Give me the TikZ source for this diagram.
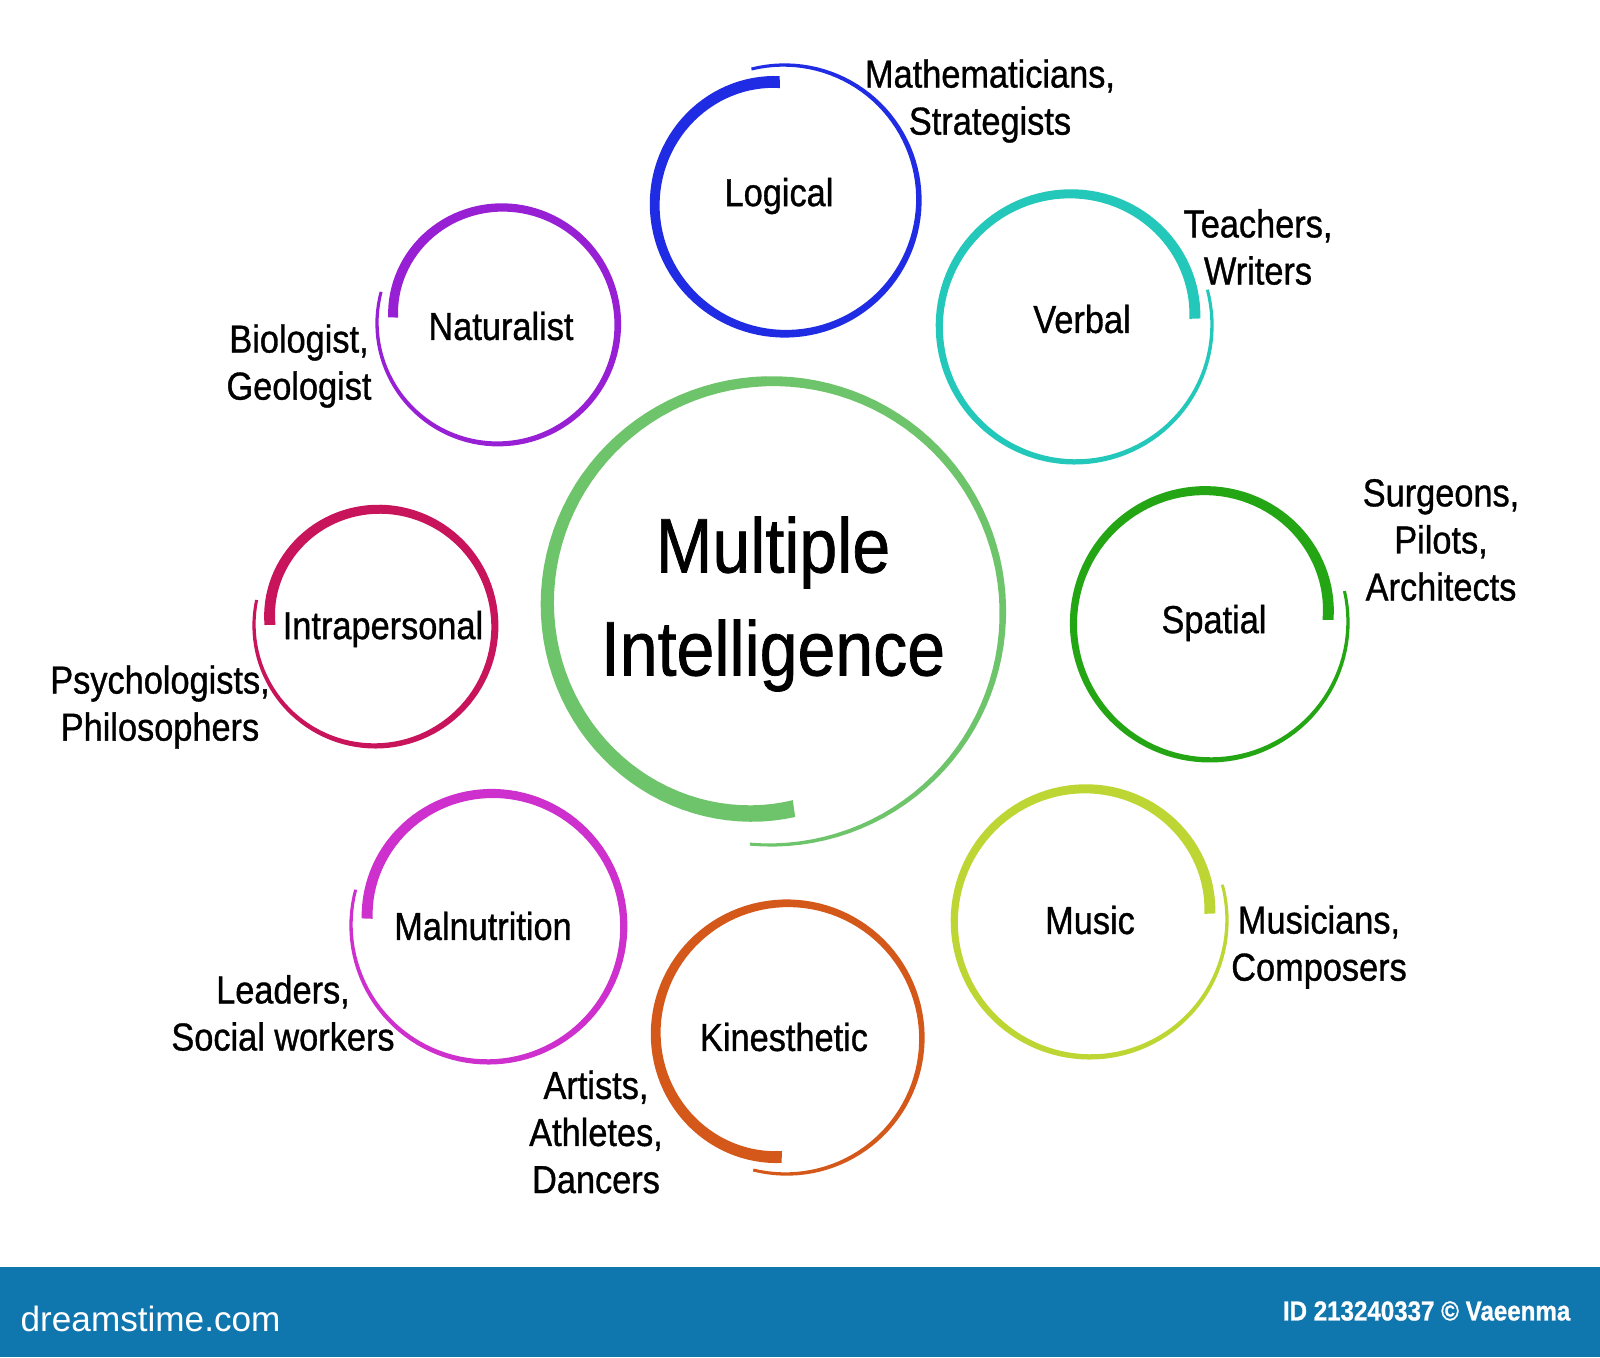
\documentclass[tikz,border=0pt]{standalone}
\usepackage{fontspec}
\setmainfont{Liberation Sans}[FakeStretch=0.88,FakeBold=0.9]
\newfontfamily\logofont{Liberation Sans}

\definecolor{logicBlue}{RGB}{32,44,228}
\definecolor{verbalTeal}{RGB}{36,200,186}
\definecolor{naturePurple}{RGB}{152,32,212}
\definecolor{intraRed}{RGB}{200,20,90}
\definecolor{centreGreen}{RGB}{110,196,106}
\definecolor{spatialGreen}{RGB}{36,166,20}
\definecolor{musicLime}{RGB}{190,214,52}
\definecolor{kinOrange}{RGB}{212,88,26}
\definecolor{malMagenta}{RGB}{206,48,206}
\definecolor{barBlue}{RGB}{16,118,174}

% brush ring: colour, centre x, centre y, radius, inset at start,
% start angle, turn (1 ccw, -1 cw), width at start
\newcommand{\brushring}[8]{%
  \fill[#1] plot[domain=0:1,samples=121] ({#2+(#4-#5*((1-\x)*(1-\x))^2+(#8*(1-\x)+3*\x)/2)*cos((#6)+(#7)*372*\x)}, {#3-(#4-#5*((1-\x)*(1-\x))^2+(#8*(1-\x)+3*\x)/2)*sin((#6)+(#7)*372*\x)})
    -- plot[domain=1:0,samples=121] ({#2+(#4-#5*((1-\x)*(1-\x))^2-(#8*(1-\x)+3*\x)/2)*cos((#6)+(#7)*372*\x)}, {#3-(#4-#5*((1-\x)*(1-\x))^2-(#8*(1-\x)+3*\x)/2)*sin((#6)+(#7)*372*\x)})
    -- cycle;}

\begin{document}
\begin{tikzpicture}[x=0.1mm,y=-0.1mm,
  ringtext/.style={inner sep=0pt,font=\fontsize{11.1}{13.4}\selectfont},
  jobtext/.style={ringtext,align=center}]
\useasboundingbox (0,0) rectangle (1600,1357);
% centre ring
\brushring{centreGreen}{770}{612}{233}{35}{277}{-1}{17}
\node[inner sep=0pt,align=center,font=\fontsize{22}{29.3}\selectfont] (title) at (773,604) {Multiple\\Intelligence};
% Logical
\brushring{logicBlue}{784}{200}{135}{17}{92}{1}{12}
\node[ringtext] (logical) at (779,196) {Logical};
\node[jobtext] (logicalJobs) at (990,101) {Mathematicians,\\Strategists};
% Verbal
\brushring{verbalTeal}{1075}{325}{137}{17}{3}{1}{11}
\node[ringtext] (verbal) at (1082,319) {Verbal};
\node[jobtext] (verbalJobs) at (1258,247) {Teachers,\\Writers};
% Naturalist
\brushring{naturePurple}{498}{323}{121}{16}{177}{-1}{10}
\node[ringtext] (naturalist) at (501,326) {Naturalist};
\node[jobtext] (naturalistJobs) at (299,366) {Biologist,\\Geologist};
% Spatial
\brushring{spatialGreen}{1210}{622}{138}{20}{1}{1}{11}
\node[ringtext] (spatial) at (1214,623) {Spatial};
\node[jobtext] (spatialJobs) at (1441,540) {Surgeons,\\Pilots,\\Architects};
% Intrapersonal
\brushring{intraRed}{375}{625}{121}{16}{180}{-1}{11}
\node[ringtext] (intra) at (383,629) {Intrapersonal};
\node[jobtext] (intraJobs) at (160,707) {Psychologists,\\Philosophers};
% Music
\brushring{musicLime}{1090}{920}{137}{17}{3}{1}{11}
\node[ringtext] (music) at (1090,920) {Music};
\node[jobtext] (musicJobs) at (1319,947) {Musicians,\\Composers};
% Malnutrition
\brushring{malMagenta}{488}{925}{137}{16}{177}{-1}{11}
\node[ringtext] (maln) at (483,926) {Malnutrition};
\node[jobtext] (malnJobs) at (283,1013) {Leaders,\\Social workers};
% Kinesthetic
\brushring{kinOrange}{786}{1038}{136}{17}{268}{-1}{12}
\node[ringtext] (kin) at (784,1037) {Kinesthetic};
\node[jobtext] (kinJobs) at (596,1132) {Artists,\\Athletes,\\Dancers};
% footer bar
\fill[barBlue] (0,1267) rectangle (1600,1357);
\node[inner sep=0pt,anchor=west,text=white,font=\logofont\fontsize{10}{12}\selectfont] (site) at (20,1319) {dreamstime.com};
\node[inner sep=0pt,anchor=east,text=white,font=\bfseries\fontsize{7.8}{9}\selectfont] (credit) at (1571,1311) {ID 213240337 © Vaeenma};
\end{tikzpicture}
\end{document}
